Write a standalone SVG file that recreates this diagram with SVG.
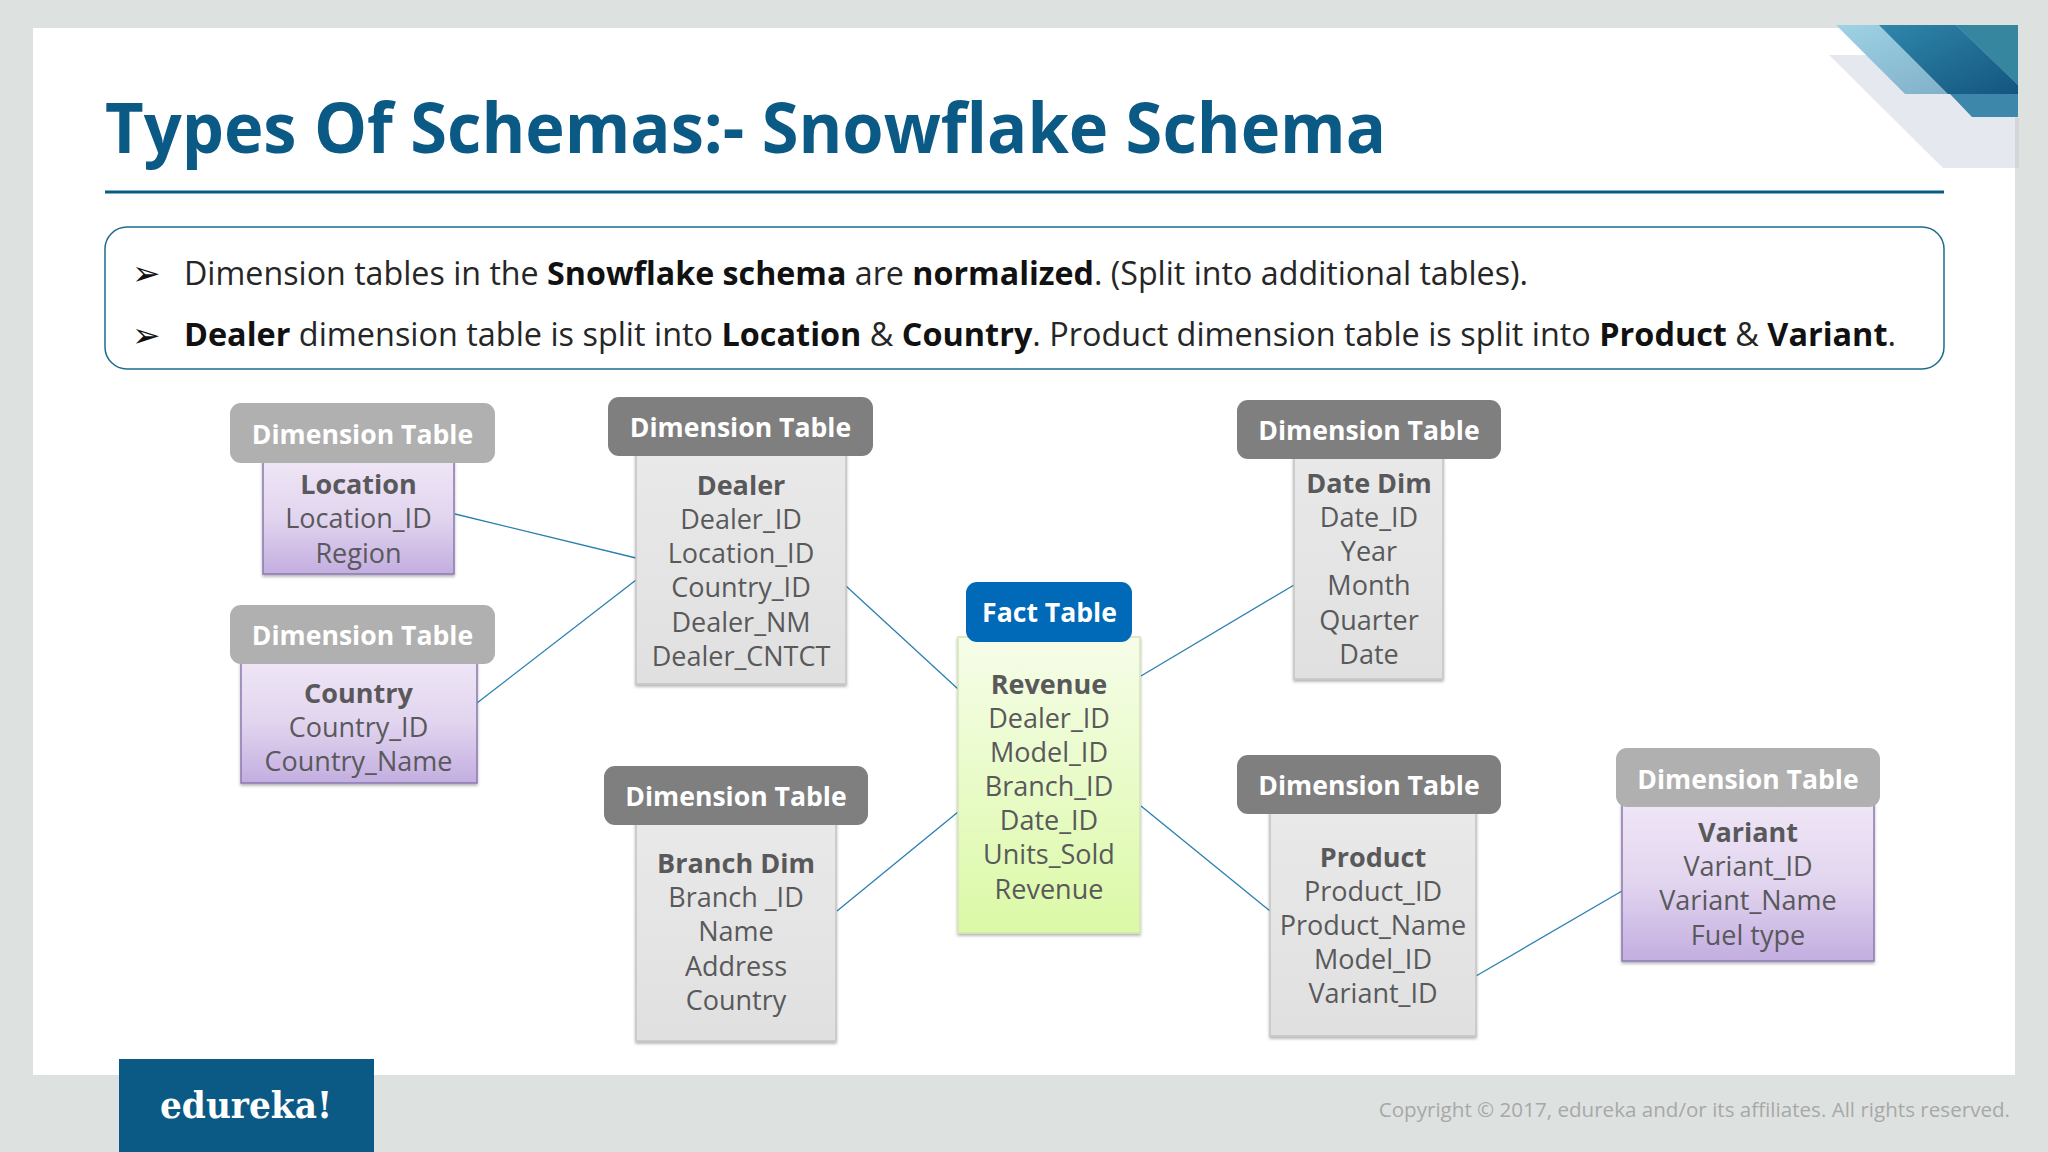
<svg xmlns="http://www.w3.org/2000/svg" width="2048" height="1152" viewBox="0 0 2048 1152">
<style>
text{font-family:"Open Sans","Noto Sans",sans-serif}
.h{font-size:26.6px;font-weight:700;fill:#fff;text-anchor:middle}
.t{font-size:27px;fill:#59595b;text-anchor:middle}
.b{font-weight:700}
.bt{font-size:32.4px;fill:#262626}
.bt .b{fill:#111}
.hd{fill:#7f7f7f}
.hl{fill:#b0b0b0}
.g{fill:url(#gray);stroke:#c4c4c4;stroke-width:1.5;filter:url(#sh)}
.p{fill:url(#purple);stroke:#8a79b0;stroke-width:1.5;filter:url(#sh)}
.c line{stroke:#2a7fb0;stroke-width:1.3}
</style>
<defs>
<linearGradient id="gray" x1="0" y1="0" x2="0" y2="1"><stop offset="0" stop-color="#e9e9e9"/><stop offset="1" stop-color="#e0e0e0"/></linearGradient>
<linearGradient id="purple" x1="0" y1="0" x2="0" y2="1"><stop offset="0" stop-color="#efe6f6"/><stop offset=".5" stop-color="#e2d5ef"/><stop offset="1" stop-color="#c3aee0"/></linearGradient>
<linearGradient id="green" x1="0" y1="0" x2="0" y2="1"><stop offset="0" stop-color="#f6fde9"/><stop offset="1" stop-color="#dbf9a6"/></linearGradient>
<linearGradient id="cl" x1="0" y1="0" x2="1" y2="1"><stop offset="0" stop-color="#9ed2e4"/><stop offset="1" stop-color="#7aa9c2"/></linearGradient>
<linearGradient id="cd" x1="0" y1="0" x2="1" y2="1"><stop offset="0" stop-color="#2f87ab"/><stop offset="1" stop-color="#14557f"/></linearGradient>
<filter id="sh" x="-10%" y="-10%" width="120%" height="120%"><feDropShadow dx="0" dy="2" stdDeviation="1.5" flood-color="#000" flood-opacity=".3"/></filter>
</defs>
<rect width="2048" height="1152" fill="#dde2e1"/>
<rect x="33" y="28" width="1982" height="1047" fill="#fff"/>
<g id="corner">
<polygon points="1829,55 1943,168 2015,168 2015,55" fill="#e5e9ef"/>
<rect x="2015" y="118" width="4" height="50" fill="#d3d7d9"/>
<polygon points="1836,25 2018,25 2018,94 1905,94" fill="url(#cl)"/>
<polygon points="1950,94 2018,94 2018,117 1972,117" fill="#3d88aa"/>
<polygon points="1879,25 1956,25 2018,85 2018,94 1948,94" fill="url(#cd)"/>
<polygon points="1956,25 2018,25 2018,85" fill="#36869f"/>
</g>
<text id="title" x="105" y="153" font-weight="700" fill="#0b5a85" style="font-size:69.5px" textLength="1281" lengthAdjust="spacingAndGlyphs">Types Of Schemas:- Snowflake Schema</text>
<rect x="105" y="190.500" width="1839" height="3" fill="#0b5a85"/>
<g id="bullets">
<rect x="105" y="227" width="1839" height="142" rx="22" fill="#fff" stroke="#1e6b8e" stroke-width="1.500"/>
<text x="132" y="285" style="font-size:34px;fill:#111">➢</text>
<text x="132" y="347" style="font-size:34px;fill:#111">➢</text>
<text class="bt" x="184" y="285" textLength="1344" lengthAdjust="spacingAndGlyphs">Dimension tables in the <tspan class="b">Snowflake schema</tspan> are <tspan class="b">normalized</tspan>. (Split into additional tables).</text>
<text class="bt" x="184" y="346" textLength="1712" lengthAdjust="spacingAndGlyphs"><tspan class="b">Dealer</tspan> dimension table is split into <tspan class="b">Location</tspan> &amp; <tspan class="b">Country</tspan>. Product dimension table is split into <tspan class="b">Product</tspan> &amp; <tspan class="b">Variant</tspan>.</text>
</g>
<g id="connectors" class="c">
<line x1="455" y1="514" x2="636" y2="558"/>
<line x1="477" y1="703" x2="636" y2="580"/>
<line x1="846" y1="586" x2="958" y2="689"/>
<line x1="1141" y1="676" x2="1294" y2="585"/>
<line x1="837" y1="911" x2="958" y2="812"/>
<line x1="1141" y1="806" x2="1270" y2="911"/>
<line x1="1476" y1="976" x2="1622" y2="891"/>
</g>
<g id="location">
<rect class="p" x="263" y="460" width="191" height="114"/>
<rect class="hl" x="230" y="403" width="265" height="60" rx="11"/>
<text class="h" x="362.500" y="444">Dimension Table</text>
<text class="t b" x="358.500" y="494">Location</text><text class="t" x="358.500" y="528">Location_ID</text><text class="t" x="358.500" y="563">Region</text>
</g>
<g id="country">
<rect class="p" x="241" y="660" width="236" height="123"/>
<rect class="hl" x="230" y="605" width="265" height="59" rx="11"/>
<text class="h" x="362.500" y="645">Dimension Table</text>
<text class="t b" x="358.500" y="703">Country</text><text class="t" x="358.500" y="737">Country_ID</text><text class="t" x="358.500" y="771">Country_Name</text>
</g>
<g id="dealer">
<rect class="g" x="636" y="452" width="210" height="232"/>
<rect class="hd" x="608" y="397" width="265" height="59" rx="11"/>
<text class="h" x="740.500" y="437">Dimension Table</text>
<text class="t b" x="741" y="495">Dealer</text><text class="t" x="741" y="529">Dealer_ID</text><text class="t" x="741" y="563">Location_ID</text><text class="t" x="741" y="597">Country_ID</text><text class="t" x="741" y="632">Dealer_NM</text><text class="t" x="741" y="666">Dealer_CNTCT</text>
</g>
<g id="date">
<rect class="g" x="1294" y="455" width="149" height="224"/>
<rect class="hd" x="1237" y="400" width="264" height="59" rx="11"/>
<text class="h" x="1369" y="440">Dimension Table</text>
<text class="t b" x="1369" y="493">Date Dim</text><text class="t" x="1369" y="527">Date_ID</text><text class="t" x="1369" y="561">Year</text><text class="t" x="1369" y="595">Month</text><text class="t" x="1369" y="630">Quarter</text><text class="t" x="1369" y="664">Date</text>
</g>
<g id="fact">
<rect x="958" y="637" width="182" height="296" fill="url(#green)" stroke="#d5e3b5" stroke-width="1.500" filter="url(#sh)"/>
<rect x="966" y="582" width="166" height="60" rx="11" fill="#0069b8"/>
<text class="h" x="1049.500" y="622">Fact Table</text>
<text class="t b" x="1049" y="694">Revenue</text><text class="t" x="1049" y="728">Dealer_ID</text><text class="t" x="1049" y="762">Model_ID</text><text class="t" x="1049" y="796">Branch_ID</text><text class="t" x="1049" y="830">Date_ID</text><text class="t" x="1049" y="864">Units_Sold</text><text class="t" x="1049" y="899">Revenue</text>
</g>
<g id="branch">
<rect class="g" x="636" y="821" width="200" height="220"/>
<rect class="hd" x="604" y="766" width="264" height="59" rx="11"/>
<text class="h" x="736" y="806">Dimension Table</text>
<text class="t b" x="736" y="873">Branch Dim</text><text class="t" x="736" y="907">Branch _ID</text><text class="t" x="736" y="941">Name</text><text class="t" x="736" y="976">Address</text><text class="t" x="736" y="1010">Country</text>
</g>
<g id="product">
<rect class="g" x="1270" y="810" width="206" height="226"/>
<rect class="hd" x="1237" y="755" width="264" height="59" rx="11"/>
<text class="h" x="1369" y="795">Dimension Table</text>
<text class="t b" x="1373" y="867">Product</text><text class="t" x="1373" y="901">Product_ID</text><text class="t" x="1373" y="935">Product_Name</text><text class="t" x="1373" y="969">Model_ID</text><text class="t" x="1373" y="1003">Variant_ID</text>
</g>
<g id="variant">
<rect class="p" x="1622" y="804" width="252" height="157"/>
<rect class="hl" x="1616" y="748" width="264" height="59" rx="11"/>
<text class="h" x="1748" y="789">Dimension Table</text>
<text class="t b" x="1748" y="842">Variant</text><text class="t" x="1748" y="876">Variant_ID</text><text class="t" x="1748" y="910">Variant_Name</text><text class="t" x="1748" y="945">Fuel type</text>
</g>
<g id="footer">
<rect x="119" y="1059" width="255" height="93" fill="#0b5a85"/>
<text x="160" y="1118" fill="#fff" style="font-family:'DejaVu Serif','Liberation Serif',serif;font-size:37px;font-weight:700" textLength="172" lengthAdjust="spacingAndGlyphs">edureka!</text>
<text x="2010" y="1117" text-anchor="end" fill="#a8a8a8" style="font-size:20.6px">Copyright © 2017, edureka and/or its affiliates. All rights reserved.</text>
</g>
</svg>
